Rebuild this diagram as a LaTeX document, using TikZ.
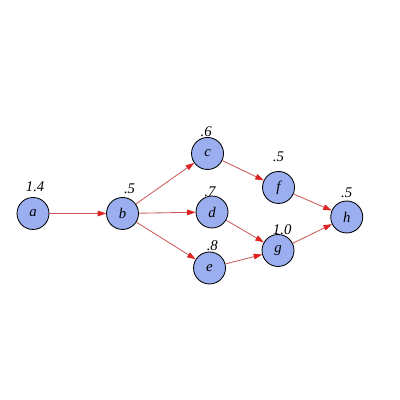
\documentclass[tikz,border=0pt]{standalone}
\usepackage{fontspec}
\setmainfont{Liberation Serif}
\usepackage{tikz}
\usetikzlibrary{arrows.meta, positioning}
\definecolor{nodeblue}{HTML}{9AAEF0}
\definecolor{edgered}{HTML}{CC5A5A}
\definecolor{tipred}{HTML}{DD2222}
\tikzset{
  task/.style={circle,draw,line width=0.6pt,fill=nodeblue,minimum size=0.8cm,inner sep=0pt,
    font=\fontsize{10.5}{12}\selectfont\itshape},
  weight/.style={font=\fontsize{10.5}{12}\selectfont\itshape,inner sep=0pt},
  dep/.style={draw=edgered,line width=0.6pt,-{Triangle[length=6pt,width=4pt,fill=tipred,color=tipred]}}
}
\begin{document}
\begin{tikzpicture}
            \useasboundingbox (0,0) rectangle (10,10);
            \node[task,label={[weight,label distance=3.5pt,xshift=1.5pt]above:1.4}](a) at (0.825,4.663) {a};
            \node[task,label={[weight,label distance=2.5pt,xshift=5pt]above:.5}](b) at (3.063,4.663) {b};
            \node[task,label={[weight,label distance=0pt,xshift=-1pt]above:.6}](c) at (5.188,6.163) {c};
            \node[task,label={[weight,label distance=-1pt,xshift=-1.5pt]above:.7}](d) at (5.3,4.7) {d};
            \node[task,label={[weight,label distance=0.5pt,xshift=2pt]above:.8}](e) at (5.238,3.3) {e};
            \node[task,label={[weight,label distance=6.5pt]above:.5}](f) at (6.963,5.313) {f};
            \node[task,label={[weight,label distance=-1pt,xshift=3pt]above:1.0}](g) at (6.95,3.738) {g};
            \node[task,label={[weight,label distance=2pt]above:.5}](h) at (8.668,4.575) {h};
            \draw[dep] (a) -- (b);
            \draw[dep] (b) -- (c);
            \draw[dep] (b) -- (d);
            \draw[dep] (b) -- (e);
            \draw[dep] (c) -- (f);
            \draw[dep] (d) -- (g);
            \draw[dep] (e) -- (g);
            \draw[dep] (f) -- (h);
            \draw[dep] (g) -- (h);
        \end{tikzpicture}
\end{document}
